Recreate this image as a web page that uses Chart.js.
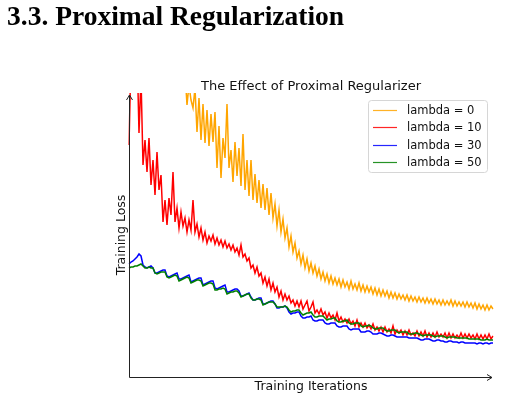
<!DOCTYPE html>
<html>
<head>
<meta charset="utf-8">
<script src="https://cdn.jsdelivr.net/npm/chart.js@4.4.1/dist/chart.umd.min.js"></script>
<style>
  html, body { margin: 0; padding: 0; background: #ffffff; }
  #wrap { position: relative; width: 524px; height: 395px; }
  canvas { display: block; }
</style>
</head>
<body>
<div id="wrap"><canvas id="c" width="524" height="395"></canvas></div>
<script>
// ---- Data (training loss, arbitrary units) ----
const pageHeading = "3.3. Proximal Regularization";
const chartTitle = "The Effect of Proximal Regularizer";
const xAxisLabel = "Training Iterations";
const yAxisLabel = "Training Loss";
const seriesNames = ["lambda = 0", "lambda = 10", "lambda = 30", "lambda = 50"];
const seriesColors = ["#ffa500", "#ff0000", "#0000ff", "#008000"];

const lossLambda0 = [
  4.9,4.7,4.8,4.5,4.6,4.3,4.4,4.2,4.3,4.0,
  4.1,3.9,4.0,3.8,3.9,3.7,3.75,3.6,3.65,3.5,
  3.55,3.4,3.45,3.3,3.35,3.2,3.22,3.1,3.05,2.72,
  2.92,2.77,2.69,2.89,2.45,2.79,2.37,2.73,2.34,2.67,
  2.31,2.63,2.35,2.65,2.09,2.51,1.99,2.39,2.19,2.73,
  2.09,2.27,1.95,2.35,2.01,2.29,1.91,2.43,1.87,2.17,
  1.81,2.17,1.77,2.03,1.74,1.97,1.69,1.93,1.67,1.89,
  1.62,1.84,1.59,1.73,1.51,1.67,1.45,1.58,1.39,1.49,
  1.30,1.41,1.25,1.34,1.19,1.26,1.13,1.22,1.09,1.18,
  1.06,1.14,1.04,1.11,1.01,1.08,0.98,1.05,0.96,1.03,
  0.94,1.01,0.93,0.99,0.92,0.98,0.90,0.97,0.90,0.95,
  0.88,0.96,0.88,0.93,0.87,0.94,0.86,0.92,0.85,0.91,
  0.85,0.90,0.83,0.89,0.82,0.88,0.81,0.87,0.81,0.86,
  0.79,0.85,0.79,0.84,0.78,0.83,0.78,0.82,0.77,0.82,
  0.76,0.81,0.76,0.80,0.75,0.80,0.75,0.79,0.74,0.79,
  0.74,0.78,0.73,0.78,0.73,0.77,0.72,0.77,0.72,0.76,
  0.72,0.77,0.71,0.76,0.71,0.75,0.71,0.75,0.70,0.75,
  0.70,0.74,0.69,0.74,0.68,0.73,0.68,0.72,0.67,0.72,
  0.67,0.71,0.68
];
const lossLambda10 = [
  2.32,3.20,3.40,3.10,3.30,2.44,3.00,2.12,2.37,2.05,
  2.39,1.92,2.17,1.82,2.25,1.87,2.02,1.55,1.77,1.52,
  1.79,1.62,2.05,1.55,1.69,1.49,1.65,1.51,1.59,1.45,
  1.57,1.47,1.77,1.45,1.53,1.40,1.49,1.37,1.45,1.34,
  1.41,1.36,1.42,1.33,1.39,1.32,1.37,1.30,1.36,1.29,
  1.33,1.27,1.32,1.25,1.29,1.22,1.32,1.20,1.23,1.16,
  1.19,1.09,1.12,1.04,1.10,1.01,1.04,0.94,1.00,0.91,
  0.98,0.87,0.94,0.85,0.90,0.80,0.86,0.77,0.83,0.77,
  0.81,0.74,0.77,0.71,0.76,0.70,0.76,0.68,0.72,0.76,
  0.66,0.70,0.75,0.64,0.67,0.63,0.68,0.62,0.65,0.59,
  0.64,0.59,0.62,0.57,0.64,0.56,0.60,0.55,0.58,0.54,
  0.58,0.53,0.56,0.51,0.57,0.50,0.54,0.50,0.54,0.49,
  0.52,0.48,0.53,0.47,0.50,0.46,0.50,0.45,0.50,0.45,
  0.48,0.44,0.51,0.43,0.47,0.44,0.47,0.42,0.46,0.42,
  0.47,0.42,0.44,0.41,0.46,0.41,0.45,0.41,0.46,0.40,
  0.44,0.40,0.44,0.40,0.45,0.40,0.43,0.40,0.44,0.39,
  0.44,0.39,0.43,0.39,0.42,0.39,0.44,0.39,0.43,0.39,
  0.43,0.39,0.42,0.38,0.43,0.38,0.42,0.38,0.42,0.38,
  0.43,0.38,0.41
];
const lossLambda30 = [
  1.13,1.15,1.16,1.18,1.20,1.23,1.21,1.12,1.10,1.09,
  1.10,1.11,1.09,1.04,1.04,1.05,1.06,1.07,1.07,1.01,
  1.00,1.01,1.02,1.03,1.04,0.98,0.98,0.99,1.00,1.01,
  1.02,0.95,0.96,0.97,0.98,0.99,0.99,0.92,0.93,0.94,
  0.95,0.96,0.96,0.89,0.88,0.89,0.90,0.91,0.92,0.85,
  0.85,0.86,0.87,0.88,0.88,0.86,0.81,0.81,0.82,0.83,
  0.84,0.80,0.77,0.77,0.78,0.79,0.79,0.73,0.73,0.74,
  0.75,0.76,0.76,0.73,0.69,0.69,0.70,0.70,0.71,0.69,
  0.65,0.63,0.64,0.64,0.65,0.65,0.61,0.59,0.59,0.60,
  0.60,0.61,0.57,0.56,0.56,0.57,0.57,0.57,0.54,0.53,
  0.53,0.54,0.54,0.54,0.51,0.50,0.50,0.51,0.51,0.51,
  0.48,0.47,0.48,0.48,0.48,0.48,0.45,0.45,0.45,0.46,
  0.46,0.45,0.43,0.43,0.43,0.44,0.44,0.43,0.42,0.41,
  0.41,0.42,0.42,0.41,0.40,0.40,0.40,0.40,0.40,0.40,
  0.39,0.39,0.39,0.39,0.39,0.38,0.37,0.37,0.38,0.38,
  0.38,0.37,0.36,0.36,0.37,0.37,0.36,0.36,0.35,0.35,
  0.36,0.36,0.35,0.35,0.35,0.34,0.35,0.35,0.34,0.34,
  0.34,0.34,0.34,0.34,0.33,0.34,0.34,0.33,0.34,0.34,
  0.33,0.34,0.34
];
const lossLambda50 = [
  1.09,1.10,1.10,1.11,1.11,1.12,1.13,1.11,1.09,1.09,
  1.10,1.09,1.09,1.04,1.03,1.04,1.05,1.05,1.05,1.00,
  0.99,1.00,1.01,1.02,1.01,0.96,0.97,0.98,0.99,1.00,
  0.99,0.94,0.95,0.96,0.97,0.97,0.96,0.91,0.92,0.93,
  0.94,0.94,0.93,0.87,0.87,0.88,0.88,0.89,0.88,0.83,
  0.84,0.85,0.85,0.86,0.86,0.84,0.80,0.81,0.82,0.83,
  0.83,0.79,0.77,0.77,0.78,0.78,0.77,0.72,0.73,0.74,
  0.75,0.75,0.75,0.73,0.70,0.70,0.70,0.70,0.71,0.70,
  0.67,0.65,0.66,0.66,0.67,0.67,0.64,0.62,0.63,0.64,
  0.64,0.65,0.62,0.60,0.60,0.61,0.61,0.61,0.59,0.57,
  0.58,0.58,0.59,0.59,0.56,0.55,0.55,0.56,0.56,0.57,
  0.54,0.53,0.53,0.54,0.54,0.54,0.51,0.50,0.51,0.51,
  0.52,0.51,0.49,0.48,0.48,0.49,0.49,0.49,0.47,0.46,
  0.46,0.47,0.47,0.47,0.45,0.44,0.45,0.45,0.45,0.45,
  0.43,0.43,0.43,0.44,0.44,0.43,0.42,0.41,0.42,0.42,
  0.42,0.42,0.41,0.40,0.41,0.41,0.41,0.41,0.40,0.39,
  0.40,0.40,0.40,0.40,0.39,0.39,0.39,0.39,0.39,0.39,
  0.38,0.38,0.38,0.38,0.38,0.38,0.37,0.37,0.37,0.38,
  0.37,0.37,0.37
];
const iterations = lossLambda0.map((_, i) => i);
const yRange = [0, 2.84];

// ---- Chart ----
const fontFamily = '"DejaVu Sans", "Liberation Sans", sans-serif';

const decorPlugin = {
  id: 'decor',
  afterDraw(chart) {
    const ctx = chart.ctx;
    const a = chart.chartArea;
    ctx.save();
    // page heading
    ctx.fillStyle = '#000';
    ctx.font = 'bold 27.5px "Liberation Serif", "Times New Roman", serif';
    ctx.textAlign = 'left';
    ctx.textBaseline = 'alphabetic';
    ctx.fillText(pageHeading, 7, 25);

    // axes with arrowheads
    ctx.strokeStyle = '#222';
    ctx.lineWidth = 1;
    const x0 = Math.round(a.left) + 0.5;
    const y0 = Math.round(a.bottom) + 0.5;
    const yTop = a.top + 2;
    const xRight = a.right - 1;
    ctx.beginPath();
    ctx.moveTo(x0, y0); ctx.lineTo(x0, yTop);
    ctx.moveTo(x0 - 3, yTop + 5); ctx.lineTo(x0, yTop); ctx.lineTo(x0 + 3, yTop + 5);
    ctx.moveTo(x0, y0); ctx.lineTo(xRight, y0);
    ctx.moveTo(xRight - 5, y0 - 3); ctx.lineTo(xRight, y0); ctx.lineTo(xRight - 5, y0 + 3);
    ctx.stroke();

    // title and axis labels
    ctx.fillStyle = '#111';
    ctx.font = '13px ' + fontFamily;
    ctx.textAlign = 'center';
    ctx.fillText(chartTitle, (a.left + a.right) / 2, 90);
    ctx.font = '12.5px ' + fontFamily;
    ctx.fillText(xAxisLabel, (a.left + a.right) / 2, 390);
    ctx.save();
    ctx.translate(125, (a.top + a.bottom) / 2);
    ctx.rotate(-Math.PI / 2);
    ctx.fillText(yAxisLabel, 0, 0);
    ctx.restore();

    // legend
    const lx = 368.5, ly = 100.5, lw = 119, lh = 72, r = 3;
    ctx.beginPath();
    ctx.moveTo(lx + r, ly);
    ctx.lineTo(lx + lw - r, ly); ctx.quadraticCurveTo(lx + lw, ly, lx + lw, ly + r);
    ctx.lineTo(lx + lw, ly + lh - r); ctx.quadraticCurveTo(lx + lw, ly + lh, lx + lw - r, ly + lh);
    ctx.lineTo(lx + r, ly + lh); ctx.quadraticCurveTo(lx, ly + lh, lx, ly + lh - r);
    ctx.lineTo(lx, ly + r); ctx.quadraticCurveTo(lx, ly, lx + r, ly);
    ctx.closePath();
    ctx.fillStyle = 'rgba(255,255,255,0.8)';
    ctx.fill();
    ctx.strokeStyle = '#d6d6d6';
    ctx.stroke();
    ctx.font = '11.5px ' + fontFamily;
    ctx.textAlign = 'left';
    ctx.textBaseline = 'middle';
    chart.data.datasets.forEach((ds, i) => {
      const cy = Math.round(110 + i * 17.4) + 0.5;
      ctx.strokeStyle = ds.borderColor;
      ctx.globalAlpha = 0.85;
      ctx.lineWidth = 1.2;
      ctx.beginPath(); ctx.moveTo(373, cy); ctx.lineTo(397, cy); ctx.stroke();
      ctx.globalAlpha = 1;
      ctx.fillStyle = '#111';
      ctx.fillText(ds.label, 407, cy + 1);
    });
    ctx.restore();
  }
};

const seriesData = [lossLambda0, lossLambda10, lossLambda30, lossLambda50];
new Chart(document.getElementById('c'), {
  type: 'line',
  data: {
    labels: iterations,
    datasets: seriesData.map((d, i) => ({
      label: seriesNames[i],
      data: d,
      borderColor: seriesColors[i],
      backgroundColor: seriesColors[i],
      borderWidth: 1.5,
      pointRadius: 0,
      tension: 0,
      fill: false,
      order: seriesData.length - i
    }))
  },
  options: {
    responsive: false,
    animation: false,
    events: [],
    layout: { padding: { left: 129, right: 31, top: 93, bottom: 18 } },
    plugins: { legend: { display: false }, title: { display: false }, tooltip: { enabled: false } },
    scales: {
      x: { type: 'category', display: false, offset: false },
      y: { type: 'linear', display: false, min: yRange[0], max: yRange[1] }
    }
  },
  plugins: [decorPlugin]
});
</script>
</body>
</html>
